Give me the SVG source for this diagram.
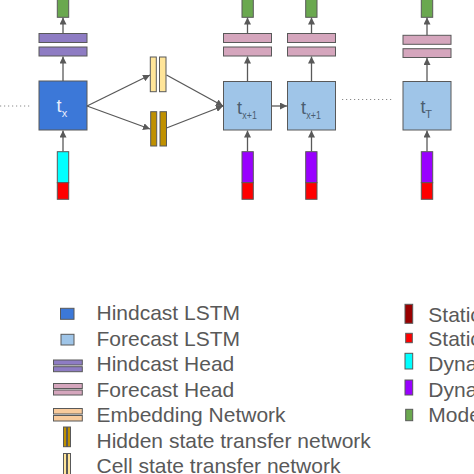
<svg xmlns="http://www.w3.org/2000/svg" width="474" height="474" viewBox="0 0 474 474">
<defs>
<style>
.ln{stroke:#595959;stroke-width:1.3;fill:none}
.dot{stroke:#8a8a8a;stroke-width:1;stroke-dasharray:1.2,2.8;fill:none}
.hb{fill:#3c78d8;stroke:#595959;stroke-width:1}
.fb{fill:#9fc5e8;stroke:#595959;stroke-width:1}
.hh{fill:#8e7cc3;stroke:#595959;stroke-width:1}
.fh{fill:#d5a6bd;stroke:#595959;stroke-width:1}
.eh{fill:#f9cb9c;stroke:#595959;stroke-width:1}
.gr{fill:#6aa84f;stroke:#595959;stroke-width:1}
.cy{fill:#00ffff;stroke:#595959;stroke-width:1}
.pu{fill:#9900ff;stroke:#595959;stroke-width:1}
.rd{fill:#ff0000;stroke:#595959;stroke-width:1}
.dr{fill:#990000;stroke:#595959;stroke-width:1}
.cs{fill:#ffe599;stroke:#595959;stroke-width:1}
.hs{fill:#bf9000;stroke:#595959;stroke-width:1}
.lt{font-family:"Liberation Sans",Arial,sans-serif;font-size:21px;fill:#595959}
.tt{font-family:"Liberation Sans",Arial,sans-serif;font-size:18px}
.ts{font-family:"Liberation Sans",Arial,sans-serif;font-size:11px}
</style>
<marker id="ah" viewBox="0 0 10 10" refX="10" refY="5" markerWidth="7" markerHeight="7" markerUnits="userSpaceOnUse" orient="auto">
<path d="M0,0 L10,5 L0,10 z" fill="#595959"/>
</marker>
</defs>

<g id="connectors">
<line class="dot" x1="0" y1="106" x2="30" y2="106"/>
<line class="dot" x1="342" y1="99.5" x2="393" y2="99.5"/>
<line class="ln" x1="63" y1="151.5" x2="63" y2="130.5" marker-end="url(#ah)"/>
<line class="ln" x1="63" y1="81" x2="63" y2="56.5" marker-end="url(#ah)"/>
<line class="ln" x1="63" y1="33.5" x2="63" y2="17.5" marker-end="url(#ah)"/>
<line class="ln" x1="87" y1="106" x2="150" y2="75" marker-end="url(#ah)"/>
<line class="ln" x1="87" y1="106" x2="150" y2="129" marker-end="url(#ah)"/>
<line class="ln" x1="166.5" y1="75" x2="223" y2="106" marker-end="url(#ah)"/>
<line class="ln" x1="166.5" y1="128" x2="223" y2="106" marker-end="url(#ah)"/>
<line class="ln" x1="272" y1="106" x2="287" y2="106" marker-end="url(#ah)"/>
<line class="ln" x1="247.5" y1="151.5" x2="247.5" y2="130.5" marker-end="url(#ah)"/>
<line class="ln" x1="247.5" y1="81.5" x2="247.5" y2="56.5" marker-end="url(#ah)"/>
<line class="ln" x1="247.5" y1="33.5" x2="247.5" y2="17.5" marker-end="url(#ah)"/>
<line class="ln" x1="311.5" y1="151.5" x2="311.5" y2="130.5" marker-end="url(#ah)"/>
<line class="ln" x1="311.5" y1="81.5" x2="311.5" y2="56.5" marker-end="url(#ah)"/>
<line class="ln" x1="311.5" y1="33.5" x2="311.5" y2="17.5" marker-end="url(#ah)"/>
<line class="ln" x1="427" y1="151.5" x2="427" y2="130.5" marker-end="url(#ah)"/>
<line class="ln" x1="427" y1="81.5" x2="427" y2="58" marker-end="url(#ah)"/>
<line class="ln" x1="427" y1="35.5" x2="427" y2="17.5" marker-end="url(#ah)"/>
</g>

<g id="hindcast-lstm">
<rect class="hb" x="39" y="81" width="48" height="49"/>
<text class="tt" x="56.5" y="112" fill="#e8eefc">t</text>
<text class="ts" x="61.8" y="117" fill="#e8eefc">x</text>
</g>
<g id="hindcast-head">
<rect class="hh" x="39" y="33.5" width="48" height="9"/>
<rect class="hh" x="39" y="47" width="48" height="9"/>
</g>
<g id="hindcast-output"><rect class="gr" x="57.3" y="-1" width="11.4" height="18.3"/></g>
<g id="hindcast-input">
<rect class="cy" x="57.3" y="151.7" width="11.4" height="31"/>
<rect class="rd" x="57.3" y="182.7" width="11.4" height="16.6"/>
</g>

<g id="cell-state-transfer">
<rect class="cs" x="150.3" y="57" width="6" height="34.7"/>
<rect class="cs" x="159.5" y="57" width="6.5" height="34.7"/>
</g>
<g id="hidden-state-transfer">
<rect class="hs" x="150.7" y="111.7" width="6" height="34.3"/>
<rect class="hs" x="160" y="111.7" width="6.5" height="34.3"/>
</g>

<g id="forecast-lstm-1">
<rect class="fb" x="223.5" y="81.5" width="48" height="48.5"/>
<text class="tt" x="237" y="113.5" fill="#4a5d70">t</text>
<text class="ts" x="242.3" y="118.5" fill="#4a5d70" textLength="14.5" lengthAdjust="spacingAndGlyphs">x+1</text>
</g>
<g id="forecast-head-1">
<rect class="fh" x="223.5" y="33.5" width="48" height="9"/>
<rect class="fh" x="223.5" y="47" width="48" height="9"/>
</g>
<g id="forecast-output-1"><rect class="gr" x="242" y="-1" width="11.3" height="18.3"/></g>
<g id="forecast-input-1">
<rect class="pu" x="242" y="151.7" width="11.3" height="31"/>
<rect class="rd" x="242" y="182.7" width="11.3" height="16.6"/>
</g>

<g id="forecast-lstm-2">
<rect class="fb" x="287.5" y="81.5" width="48" height="48.5"/>
<text class="tt" x="301" y="113.5" fill="#4a5d70">t</text>
<text class="ts" x="306.3" y="118.5" fill="#4a5d70" textLength="14.5" lengthAdjust="spacingAndGlyphs">x+1</text>
</g>
<g id="forecast-head-2">
<rect class="fh" x="287.5" y="33.5" width="48" height="9"/>
<rect class="fh" x="287.5" y="47" width="48" height="9"/>
</g>
<g id="forecast-output-2"><rect class="gr" x="305.7" y="-1" width="11.3" height="18.3"/></g>
<g id="forecast-input-2">
<rect class="pu" x="305.7" y="151.7" width="11.3" height="31"/>
<rect class="rd" x="305.7" y="182.7" width="11.3" height="16.6"/>
</g>

<g id="forecast-lstm-T">
<rect class="fb" x="403" y="81.5" width="48" height="48.5"/>
<text class="tt" x="420.5" y="112.5" fill="#4a5d70">t</text>
<text class="ts" x="425.3" y="118" fill="#4a5d70">T</text>
</g>
<g id="forecast-head-T">
<rect class="fh" x="403" y="35.3" width="48" height="9"/>
<rect class="fh" x="403" y="48.7" width="48" height="8.8"/>
</g>
<g id="forecast-output-T"><rect class="gr" x="421.3" y="-1" width="11.4" height="18.3"/></g>
<g id="forecast-input-T">
<rect class="pu" x="421.3" y="151.7" width="11.4" height="31"/>
<rect class="rd" x="421.3" y="182.7" width="11.4" height="16.6"/>
</g>

<g id="legend">
<rect class="hb" x="60.5" y="308.3" width="13.5" height="11"/>
<text class="lt" x="96.5" y="320">Hindcast LSTM</text>
<rect class="fb" x="61" y="334.3" width="13" height="10.7"/>
<text class="lt" x="96.5" y="345.5">Forecast LSTM</text>
<rect class="hh" x="53.5" y="360" width="28.8" height="5"/>
<rect class="hh" x="53.5" y="366.7" width="28.8" height="5"/>
<text class="lt" x="96.5" y="371">Hindcast Head</text>
<rect class="fh" x="53.5" y="383.5" width="28.8" height="5"/>
<rect class="fh" x="53.5" y="390" width="28.8" height="5"/>
<text class="lt" x="96.5" y="396.5">Forecast Head</text>
<rect class="eh" x="53.5" y="408.5" width="28.8" height="5.5"/>
<rect class="eh" x="53.5" y="415.5" width="28.8" height="5.5"/>
<text class="lt" x="96.5" y="422">Embedding Network</text>
<rect class="hs" x="63.5" y="427" width="3" height="19.7"/>
<rect class="hs" x="67.5" y="427" width="3" height="19.7"/>
<text class="lt" x="96.5" y="447.5">Hidden state transfer network</text>
<rect class="cs" x="63.5" y="453.5" width="3" height="22"/>
<rect class="cs" x="67.5" y="453.5" width="3" height="22"/>
<text class="lt" x="96.5" y="472.5">Cell state transfer network</text>

<rect class="dr" x="405" y="304.3" width="7.7" height="19"/>
<text class="lt" x="428.3" y="321.5">Static</text>
<rect class="rd" x="405.7" y="333.3" width="6.6" height="9.4"/>
<text class="lt" x="428.3" y="346">Static</text>
<rect class="cy" x="405" y="353.3" width="7.7" height="15.7"/>
<text class="lt" x="428.3" y="371">Dynamic</text>
<rect class="pu" x="405" y="380" width="7.7" height="15"/>
<text class="lt" x="428.3" y="396.5">Dynamic</text>
<rect class="gr" x="405.7" y="409.3" width="7" height="11.4"/>
<text class="lt" x="428.3" y="422">Model</text>
</g>
</svg>
